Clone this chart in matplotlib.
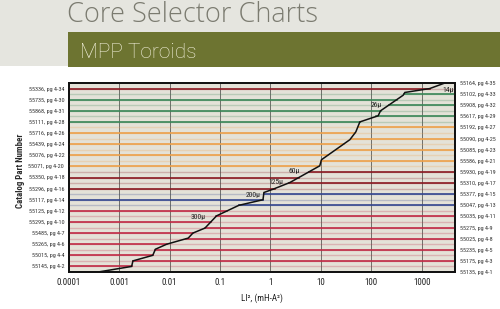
"""MPP toroid core selector chart (LI^2 vs catalog part number)."""

import matplotlib

matplotlib.use("Agg")
import matplotlib.pyplot as plt
import numpy as np
from matplotlib.patches import Rectangle

# ---- data -----------------------------------------------------------------
# rows are numbered from the bottom; odd rows carry the left labels,
# even rows the right labels
LEFT_ROWS = [1, 3, 5, 7, 9, 11, 13, 15, 17, 19, 21, 23, 25, 27, 29, 31, 33]
LEFT_LABELS = [
    "55145, pg 4-2", "55015, pg 4-4", "55265, pg 4-6", "55485, pg 4-7",
    "55295, pg 4-10", "55125, pg 4-12", "55117, pg 4-14", "55296, pg 4-16",
    "55350, pg 4-18", "55071, pg 4-20", "55076, pg 4-22", "55439, pg 4-24",
    "55716, pg 4-26", "55111, pg 4-28", "55868, pg 4-31", "55735, pg 4-30",
    "55336, pg 4-34",
]
RIGHT_ROWS = [0, 2, 4, 6, 8, 10, 12, 14, 16, 18, 20, 22, 24, 26, 28, 30, 32, 34]
RIGHT_LABELS = [
    "55135, pg 4-1", "55175, pg 4-3", "55235, pg 4-5", "55025, pg 4-8",
    "55275, pg 4-9", "55035, pg 4-11", "55047, pg 4-13", "55377, pg 4-15",
    "55310, pg 4-17", "55930, pg 4-19", "55586, pg 4-21", "55085, pg 4-23",
    "55090, pg 4-25", "55192, pg 4-27", "55617, pg 4-29", "55908, pg 4-32",
    "55102, pg 4-33", "55164, pg 4-35",
]

# selector curve: LI^2 (mH-A^2) and row position
CURVE_LI2 = [0.0001, 0.00038, 0.00175, 0.00186, 0.0046, 0.0052, 0.0087,
             0.0233, 0.0288, 0.050, 0.085, 0.236, 0.71, 0.74, 1.13, 2.43,
             9.5, 10.3, 37.6, 49.4, 59.4, 137, 153, 430, 465, 1450, 2900]
CURVE_ROW = [0, 0, 1.0, 2.0, 3.0, 4.1, 5.0, 6.1, 7.0, 7.9, 10.1, 12.0, 13.0,
             14.3, 14.9, 16.1, 19.1, 20.2, 23.8, 25.2, 27.0, 28.1, 29.0,
             31.8, 32.3, 33.0, 34.0]

# permeability labels along the curve
MU_TEXT = ["300µ", "200µ", "125µ", "60µ", "26µ", "14µ"]
MU_LI2 = [0.036, 0.45, 1.3, 3.0, 127, 3350]
MU_ROW = [9.9, 13.9, 16.2, 18.2, 30.0, 32.7]

X_TICKS = [0.0001, 0.001, 0.01, 0.1, 1, 10, 100, 1000]
X_TICK_LABELS = ["0.0001", "0.001", "0.01", "0.1", "1", "10", "100", "1000"]

RED = "#c02a45"
DARK_RED = "#8a1a22"
BLUE = "#34468f"
ORANGE = "#eda04a"
GREEN = "#3a8657"


def row_color(row):
    if row <= 11:
        return RED
    if row <= 14:
        return BLUE
    if row <= 18:
        return DARK_RED
    if row <= 26:
        return ORANGE
    if row <= 32:
        return GREEN
    return DARK_RED


NARROW = ["Roboto Condensed", "DejaVu Sans"]

fig = plt.figure(figsize=(5.0, 3.09), dpi=100)
fig.patch.set_facecolor("white")

# ---- page header ----------------------------------------------------------
H = 309.0
W = 500.0
fig.patches.append(Rectangle((0, 1 - 66 / H), 1, 66 / H, transform=fig.transFigure,
                             facecolor="#e5e5df", edgecolor="none", zorder=0))
fig.patches.append(Rectangle((68 / W, 1 - 67 / H), 1 - 68 / W, 35 / H,
                             transform=fig.transFigure, facecolor="#6d7431",
                             edgecolor="none", zorder=1))
fig.text(67 / W, 1 - 21.5 / H, "Core Selector Charts", fontsize=19.5,
         family=["Open Sans", "Roboto", "DejaVu Sans"], fontweight="light",
         color="#7b7b70", ha="left", va="baseline")
fig.text(80 / W, 1 - 58 / H, "MPP Toroids", fontsize=15,
         family=["Roboto", "DejaVu Sans"], fontweight="light", color="#f3f1dc",
         ha="left", va="baseline")

tab = fig.add_axes([0, 1 - 66 / H, 24 / W, 66 / H])
tab.set_facecolor("#c9351f")
tab.set_xticks([])
tab.set_yticks([])
for s in tab.spines.values():
    s.set_visible(False)
tab.text(0.45, 0.29, "Core Selector Charts", rotation=90, color="white",
         fontsize=7.5, family=["Roboto", "DejaVu Sans"], ha="center", va="bottom",
         transform=tab.transAxes, clip_on=True)

# ---- chart ----------------------------------------------------------------
ax = fig.add_axes([69 / W, 37 / H, 386 / W, 189 / H])
ax.set_facecolor("#e4e2d8")
ax.set_xscale("log")
ax.set_xlim(0.0001, 4600)
ax.set_ylim(0, 34)

log_curve_x = np.log10(CURVE_LI2)
xmin, xmax = ax.get_xlim()

# vertical decade grid
for xv in X_TICKS[1:]:
    ax.axvline(xv, color="#6f6f6a", linewidth=0.7, zorder=1)

# row lines: strong on their own side of the curve, faint elsewhere
for row in LEFT_ROWS + RIGHT_ROWS:
    if row in (0, 34):
        continue
    c = row_color(row)
    ax.axhline(row, color=c, linewidth=1.0, alpha=0.25, zorder=2)
    cross = 10 ** np.interp(row, CURVE_ROW, log_curve_x)
    if row in LEFT_ROWS:
        ax.plot([xmin, cross], [row, row], color=c, linewidth=1.2, zorder=3)
    else:
        ax.plot([cross, xmax], [row, row], color=c, linewidth=1.2, zorder=3)

ax.plot(CURVE_LI2, CURVE_ROW, color="#111111", linewidth=1.1, zorder=4,
        solid_joinstyle="miter")

for txt, xv, yv in zip(MU_TEXT, MU_LI2, MU_ROW):
    ax.text(xv, yv, txt, fontsize=5.5, family=NARROW, color="#222222",
            ha="center", va="center", zorder=5)

ax.set_xticks(X_TICKS)
ax.set_xticklabels(X_TICK_LABELS, family=NARROW, fontsize=6.5, color="#222222")
ax.minorticks_off()
ax.tick_params(axis="x", length=0, pad=4)

ax.set_yticks(LEFT_ROWS)
ax.set_yticklabels(LEFT_LABELS, family=NARROW, fontsize=4.4, color="#333333")
ax.tick_params(axis="y", length=0, pad=3.5)

ax_r = ax.twinx()
ax_r.set_ylim(0, 34)
ax_r.set_yticks(RIGHT_ROWS)
ax_r.set_yticklabels(RIGHT_LABELS, family=NARROW, fontsize=4.4, color="#333333")
ax_r.tick_params(axis="y", length=0, pad=3.5)

for a in (ax, ax_r):
    for s in a.spines.values():
        s.set_linewidth(1.3)
        s.set_color("#111111")

fig.text(21 / W, 1 - 171 / H, "Catalog Part Number", rotation=90, fontsize=6.4,
         family=NARROW, fontweight="bold", color="#2a2a2a", ha="center", va="center")
fig.text(262 / W, 1 - 298 / H, "LI², (mH-A²)", fontsize=6.5, family=NARROW,
         color="#222222", ha="center", va="center")

fig.savefig("out.png", dpi=100)
